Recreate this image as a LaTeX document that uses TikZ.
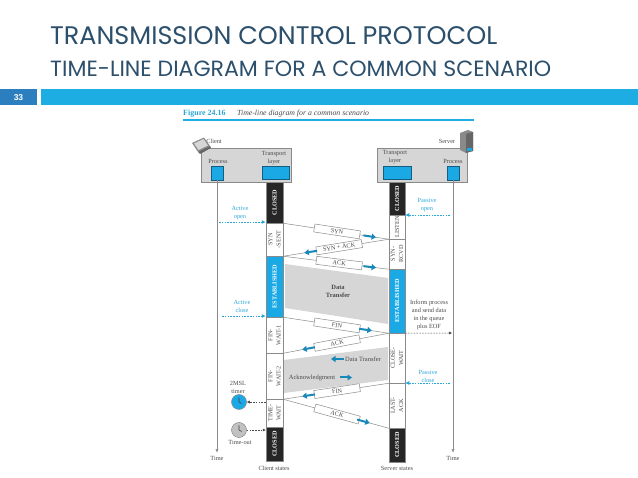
\documentclass[tikz,border=0pt]{standalone}
\usepackage{fontspec}
\usepackage{graphicx}
\setmainfont{Liberation Serif}
\newfontfamily\titlefont{Poppins}
\newfontfamily\numfont{Liberation Sans}
\usetikzlibrary{arrows.meta,calc,shadows}
\definecolor{barblue}{HTML}{1EADE3}
\definecolor{numblue}{HTML}{2B7FBE}
\definecolor{titleink}{HTML}{2C4F6B}
\definecolor{figblue}{HTML}{1BA9E6}
\definecolor{capblue}{HTML}{2AA5D8}
\definecolor{msgblue}{HTML}{1A87B9}
\definecolor{panel}{HTML}{D6D6D6}
\definecolor{band}{HTML}{D6D6D6}
\definecolor{linegray}{HTML}{8A8A8A}
\definecolor{ink}{HTML}{4A4A4A}
\newcommand{\rotone}[1]{\rotatebox{90}{#1}}
\newcommand{\rotlab}[2]{\rotatebox{90}{\shortstack[c]{#1\\[1.2pt]#2}}}
\tikzset{
  statebox/.style={draw=linegray,line width=.5pt,inner sep=0pt,font=\fontsize{6.2}{6.5}\selectfont,text=ink},
  clientcol/.style={minimum width=17pt},
  servercol/.style={minimum width=16pt},
  blackstate/.style={statebox,fill=black!85,text=white,font=\fontsize{6.2}{6.5}\selectfont\bfseries},
  bluestate/.style={statebox,fill=figblue,text=white,font=\fontsize{6.2}{6.5}\selectfont\bfseries},
  lab/.style={inner sep=0pt,align=center,text=ink,font=\fontsize{6.3}{8}\selectfont},
  bluelab/.style={lab,text=capblue},
  msgbox/.style={draw=linegray,line width=.5pt,fill=white,sloped,minimum width=46pt,minimum height=8pt,inner sep=0pt,text=ink,font=\fontsize{6.3}{7}\selectfont},
  msgline/.style={draw=linegray,line width=.5pt},
  msgarrow/.style={draw=msgblue,line width=2pt,-{Triangle[length=4.5pt,width=6pt]}},
  timeline/.style={draw=linegray,line width=.5pt,shorten >=3pt,-{Latex[length=3.5pt,width=3pt]}},
  dashblue/.style={draw=capblue,line width=.7pt,dash pattern=on 1.6pt off 1.2pt,-{Latex[length=4pt,width=4pt]}},
  dashgray/.style={draw=ink,line width=.5pt,dash pattern=on 1.6pt off 1.2pt,-{Latex[length=3pt,width=3pt]}},
  panelbox/.style={draw=linegray,line width=.6pt,fill=panel,minimum width=90pt,minimum height=34pt,inner sep=0pt},
  sq/.style={draw=msgblue!70!black,line width=.4pt,fill=figblue,inner sep=0pt,
    general shadow={shadow xshift=.9pt,shadow yshift=-.9pt,fill=black!55}},
  clockface/.style={circle,draw=linegray,line width=.5pt,minimum size=15pt,inner sep=0pt},
}
\begin{document}
\begin{tikzpicture}[x=1pt,y=-1pt]
\useasboundingbox (0,0) rectangle (638,478);
% slide frame
\node[anchor=base west,inner sep=0pt,text=titleink] (title1) at (50,45) {\resizebox{447pt}{!}{\titlefont TRANSMISSION CONTROL PROTOCOL}};
\node[anchor=base west,inner sep=0pt,text=titleink] (title2) at (50,77) {\resizebox{501pt}{!}{\titlefont TIME-LINE DIAGRAM FOR A COMMON SCENARIO}};
\fill[barblue] (41,89.5) rectangle (638,105.5);
\node[fill=numblue,minimum width=37pt,minimum height=16pt,inner sep=0pt,text=white,font=\numfont\bfseries\fontsize{8.5}{9}\selectfont] (num) at (18.5,97.5) {33};
% caption
\fill[barblue] (183,119.5) rectangle (474,121);
\node[anchor=base west,inner sep=0pt,text=capblue,font=\fontsize{8}{9}\selectfont\bfseries] (figno) at (183,115.5) {Figure 24.16};
\node[anchor=base west,inner sep=0pt,text=ink,font=\fontsize{7.8}{9}\selectfont\itshape] (figtext) at (237,115.5) {Time-line diagram for a common scenario};
% panels
\node[panelbox] (cpanel) at (246,165) {};
\node[panelbox] (spanel) at (422,165) {};
\node[sq,minimum width=12pt,minimum height=14pt] (cproc) at (217,173) {};
\node[sq,minimum width=27pt,minimum height=13pt] (ctrans) at (275.5,172.5) {};
\node[sq,minimum width=28pt,minimum height=13pt] (strans) at (397,172.5) {};
\node[sq,minimum width=12pt,minimum height=14pt] (sproc) at (453,173) {};
\node[lab] (lclient) at (214,141) {Client};
\node[lab] (lserver) at (447,141) {Server};
\node[lab] (lcproc) at (218,161) {Process};
\node[lab] (lsproc) at (453,161) {Process};
\node[lab] (lctrans) at (274,158) {Transport\\layer};
\node[lab] (lstrans) at (395,157) {Transport\\layer};
% laptop icon
\fill[linegray] (192,143) -- (204,137.5) -- (210,146) -- (198,152) -- cycle;
\fill[panel] (194,143.5) -- (203.5,139) -- (208,145.5) -- (198.5,150) -- cycle;
\fill[black!60] (198,152) -- (210,146) -- (211,148) -- (200,154) -- cycle;
% server icon
\fill[linegray] (460,133) -- (468,130) -- (473,132) -- (473,151) -- (466,153) -- (460,150) -- cycle;
\fill[black!60] (466,134) -- (473,132) -- (473,151) -- (466,153) -- cycle;
\fill[figblue] (467,148) rectangle (472,151);
% timelines
\node[lab] (tleft) at (217,458) {Time};
\node[lab] (tright) at (453,458) {Time};
\draw[timeline] (cproc.south) -- (cproc.south |- tleft.north);
\draw[timeline] (sproc.south) -- (sproc.south |- tright.north);
% gray transfer bands
\fill[band] (285,264) -- (388,278) -- (388,324) -- (285,308) -- cycle;
\fill[band] (284,360) -- (388,347) -- (388,380) -- (284,393) -- cycle;
% client column
\node[blackstate,clientcol,minimum height=41pt] (c1) at (274.5,202.5) {\rotone{CLOSED}};
\node[statebox,clientcol,minimum height=33pt] (c2) at (274.5,239.5) {\rotlab{SYN}{-SENT}};
\node[bluestate,clientcol,minimum height=61pt] (c3) at (274.5,286.5) {\rotone{ESTABLISHED}};
\node[statebox,clientcol,minimum height=36pt] (c4) at (274.5,335) {\rotlab{FIN-}{WAIT-1}};
\node[statebox,clientcol,minimum height=46pt] (c5) at (274.5,376) {\rotlab{FIN-}{WAIT-2}};
\node[statebox,clientcol,minimum height=28pt] (c6) at (274.5,413) {\rotlab{TIME-}{WAIT}};
\node[blackstate,clientcol,minimum height=34pt] (c7) at (274.5,444) {\rotone{CLOSED}};
% server column
\node[blackstate,servercol,minimum height=33pt] (s1) at (397,198.5) {\rotone{CLOSED}};
\node[statebox,servercol,minimum height=24pt] (s2) at (397,227) {\rotone{LISTEN}};
\node[statebox,servercol,minimum height=30pt] (s3) at (397,254) {\rotlab{SYN-}{RCVD}};
\node[bluestate,servercol,minimum height=64pt] (s4) at (397,301) {\rotone{ESTABLISHED}};
\node[statebox,servercol,minimum height=50pt] (s5) at (397,358) {\rotlab{CLOSE-}{WAIT}};
\node[statebox,servercol,minimum height=45pt] (s6) at (397,405.5) {\rotlab{LAST-}{ACK}};
\node[blackstate,servercol,minimum height=34pt] (s7) at (397,445) {\rotone{CLOSED}};
% messages
\draw[msgline] (c1.south east) -- node[msgbox,pos=.51] {SYN} (s2.south west);
\draw[msgarrow] ($(c1.south east)!.76!(s2.south west)$) -- ($(c1.south east)!.88!(s2.south west)$);
\draw[msgline] (s2.south west) -- node[msgbox,pos=.47] {SYN + ACK} (c2.south east);
\draw[msgarrow] ($(s2.south west)!.68!(c2.south east)$) -- ($(s2.south west)!.80!(c2.south east)$);
\draw[msgline] (c2.south east) -- node[msgbox,pos=.53] {ACK} (s3.south west);
\draw[msgarrow] ($(c2.south east)!.76!(s3.south west)$) -- ($(c2.south east)!.88!(s3.south west)$);
\draw[msgline] (c3.south east) -- node[msgbox,pos=.51] {FIN} (s4.south west);
\draw[msgarrow] ($(c3.south east)!.72!(s4.south west)$) -- ($(c3.south east)!.84!(s4.south west)$);
\draw[msgline] (s4.south west) -- node[msgbox,pos=.49] {ACK} (c4.south east);
\draw[msgarrow] ($(s4.south west)!.70!(c4.south east)$) -- ($(s4.south west)!.82!(c4.south east)$);
\draw[msgline] (s5.south west) -- node[msgbox,pos=.49] {FIN} (c5.south east);
\draw[msgarrow] ($(s5.south west)!.70!(c5.south east)$) -- ($(s5.south west)!.82!(c5.south east)$);
\draw[msgline] (c5.south east) -- node[msgbox,pos=.51] {ACK} (s6.south west);
\draw[msgarrow] ($(c5.south east)!.70!(s6.south west)$) -- ($(c5.south east)!.82!(s6.south west)$);
% band texts
\node[lab,font=\fontsize{6.5}{8}\selectfont\bfseries] (dt) at (338,291) {Data\\Transfer};
\node[lab,font=\fontsize{6.5}{8}\selectfont] (dt2) at (363,359) {Data Transfer};
\coordinate (dt2a) at (344,359);
\coordinate (dt2b) at (331,359);
\draw[msgarrow] (dt2a) -- (dt2b);
\node[lab,font=\fontsize{6.5}{8}\selectfont] (ackw) at (312,378) {Acknowledgment};
\coordinate (acka) at (340,377.5);
\coordinate (ackb) at (352,377.5);
\draw[msgarrow] (acka) -- (ackb);
% process annotations
\node[bluelab] (aopen) at (240,213.5) {Active\\open};
\coordinate (aopen0) at (219,222);
\draw[dashblue] (aopen0) -- (aopen0 -| c1.west);
\node[bluelab] (popen) at (427,205.5) {Passive\\open};
\coordinate (popen0) at (450,215);
\draw[dashblue] (popen0) -- (popen0 -| s1.east);
\node[bluelab] (aclose) at (242,306.5) {Active\\close};
\coordinate (aclose0) at (222,316);
\draw[dashblue] (aclose0) -- (aclose0 -| c3.west);
\node[bluelab] (pclose) at (428,376) {Passive\\close};
\coordinate (pclose0) at (450,383);
\draw[dashblue] (pclose0) -- (pclose0 -| s6.east);
\node[lab] (inform) at (429,314.5) {Inform process\\and send data\\in the queue\\plus EOF};
\coordinate (inform0) at (452,333);
\draw[dashgray] (s4.south east) -- (inform0);
% timers
\node[clockface,fill=figblue] (clockA) at (239,402) {};
\node[clockface,fill=panel!90!black] (clockB) at (239,430) {};
\draw[line width=.6pt,black!75] (clockA.center) -- ++(0,-4.5) (clockA.center) -- ++(2.5,1.5);
\draw[line width=.6pt,black!75] (clockB.center) -- ++(0,-4.5) (clockB.center) -- ++(2.5,1.5);
\draw[dashgray] (clockA.east -| c6.west) -- (clockA.east);
\draw[dashgray] (clockB.east) -- (clockB.east -| c7.west);
\node[lab] (msl) at (238,387) {2MSL\\timer};
\node[lab] (tout) at (240,442) {Time-out};
\node[lab] (cstates) at (274,468) {Client states};
\node[lab] (sstates) at (397,468) {Server states};
\end{tikzpicture}
\end{document}
